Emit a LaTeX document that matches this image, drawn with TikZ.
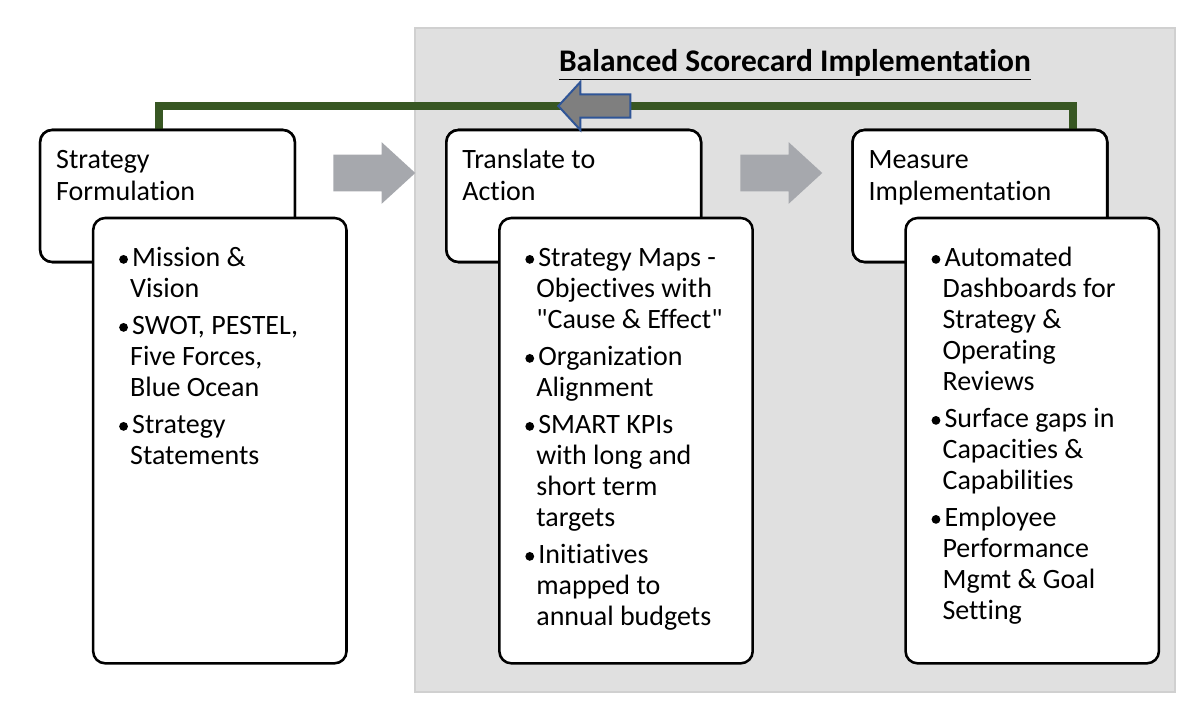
\documentclass[tikz,border=0pt]{standalone}
\usepackage{fontspec}
\setmainfont{Carlito}[Ligatures={TeXOff,CommonOff}]
\usepackage{xcolor}
\usetikzlibrary{positioning, shapes.arrows}
\definecolor{panelgray}{RGB}{224,224,224}
\definecolor{panelline}{RGB}{208,208,208}
\definecolor{loopgreen}{RGB}{56,87,35}
\definecolor{stepgray}{RGB}{166,168,173}
\definecolor{backblue}{RGB}{47,85,151}
\definecolor{backgray}{RGB}{127,127,127}
% one bullet with its hanging lines
\newcommand{\dotmark}{\raisebox{2.2pt}{\tikz\fill (0,0) circle (3.3pt);}}
\newcommand{\bitem}[1]{\hangindent=8.25pt\hangafter=1\noindent\makebox[9.75pt][l]{\dotmark}#1\par}
\tikzset{
    node distance=111.75pt, % gap between two columns
    panel/.style={fill=panelgray, draw=panelline, line width=1pt, minimum width=570pt, minimum height=498pt}, % the grey scorecard area
    header/.style={draw, line width=1.9pt, rounded corners=9pt, fill=white, inner sep=0pt, minimum width=191pt, minimum height=99pt}, % stage box
    detail/.style={header, minimum width=190pt, minimum height=334pt}, % box with the bullets
    headtext/.style={inner sep=0pt, anchor=base west, align=left, text width=170pt, font=\fontsize{21}{24}\selectfont\frenchspacing, execute at begin node={\spaceskip=0pt\xspaceskip=0pt}},
    bodytext/.style={headtext, execute at begin node={\setlength{\parskip}{4.5pt}\spaceskip=0pt\xspaceskip=0pt}, font=\fontsize{21}{23.25}\selectfont\frenchspacing},
    steparrow/.style={single arrow, draw=none, fill=stepgray, inner xsep=0pt, inner ysep=13.5pt, single arrow head extend=9.4pt, single arrow tip angle=85, minimum height=61.5pt, anchor=tail},
    backarrow/.style={single arrow, shape border rotate=180, draw=backblue, line width=1.5pt, fill=backgray, inner xsep=0pt, inner ysep=7.9pt, single arrow head extend=9.4pt, single arrow tip angle=95, minimum height=54pt, anchor=tip},
    feedback/.style={draw=loopgreen, line width=6pt, line join=miter},
}

\begin{document}
\begin{tikzpicture}[x=0.75pt, y=0.75pt]
    \useasboundingbox (0,0) rectangle (1200,713);

    \node[panel] (bsc) at (795,353) {};
    \node[anchor=base, inner sep=0pt, font=\fontsize{23.6}{28}\selectfont\bfseries] (title) at (795,641) {\underline{Balanced Scorecard Implementation}};

    % feedback loop
    \coordinate (fb1) at (159,607);
    \coordinate (fb2) at (1073,607);

    \node[header] (h1) at (167.5,517) {};
    \node[header] (h2) [right=of h1] {};
    \node[header] (h3) [right=of h2] {};

    \draw[feedback] (h1.north -| fb1) -- (fb1) -- (fb2) -- (h3.north -| fb2);
    \node[header] at (h1) {};
    \node[header] at (h2) {};
    \node[header] at (h3) {};
    \node[backarrow] (back) at (557,607) {};

    \node[detail] (b1) [below right=66pt and 39.75pt of h1.north west] {};
    \node[detail] (b2) [below right=66pt and 39.75pt of h2.north west] {};
    \node[detail] (b3) [below right=66pt and 39.75pt of h3.north west] {};

    \node[steparrow] (s1) at (333,540) {};
    \node[steparrow] (s2) at (740,540) {};

    \node[headtext] (t1) at ([shift={(17,-40)}]h1.north west) {Strategy\newline Formulation};
    \node[headtext] (t2) at ([shift={(17,-40)}]h2.north west) {Translate to\newline Action};
    \node[headtext] (t3) at ([shift={(17,-40)}]h3.north west) {Measure\newline Implementation};

    \node[bodytext] (d1) at ([shift={(27,-50)}]b1.north west) {%
        \bitem{Mission \&\newline Vision}%
        \bitem{SWOT, PESTEL,\newline Five Forces,\newline Blue Ocean}%
        \bitem{Strategy\newline Statements}};
    \node[bodytext] (d2) at ([shift={(27,-50)}]b2.north west) {%
        \bitem{Strategy Maps -\newline Objectives with\newline "Cause \& Effect"}%
        \bitem{Organization\newline Alignment}%
        \bitem{SMART KPIs\newline with long and\newline short term\newline targets}%
        \bitem{Initiatives\newline mapped to\newline annual budgets}};
    \node[bodytext] (d3) at ([shift={(27,-50)}]b3.north west) {%
        \bitem{Automated\newline Dashboards for\newline Strategy \&\newline Operating\newline Reviews}%
        \bitem{Surface gaps in\newline Capacities \&\newline Capabilities}%
        \bitem{Employee\newline Performance\newline Mgmt \& Goal\newline Setting}};
\end{tikzpicture}
\end{document}
